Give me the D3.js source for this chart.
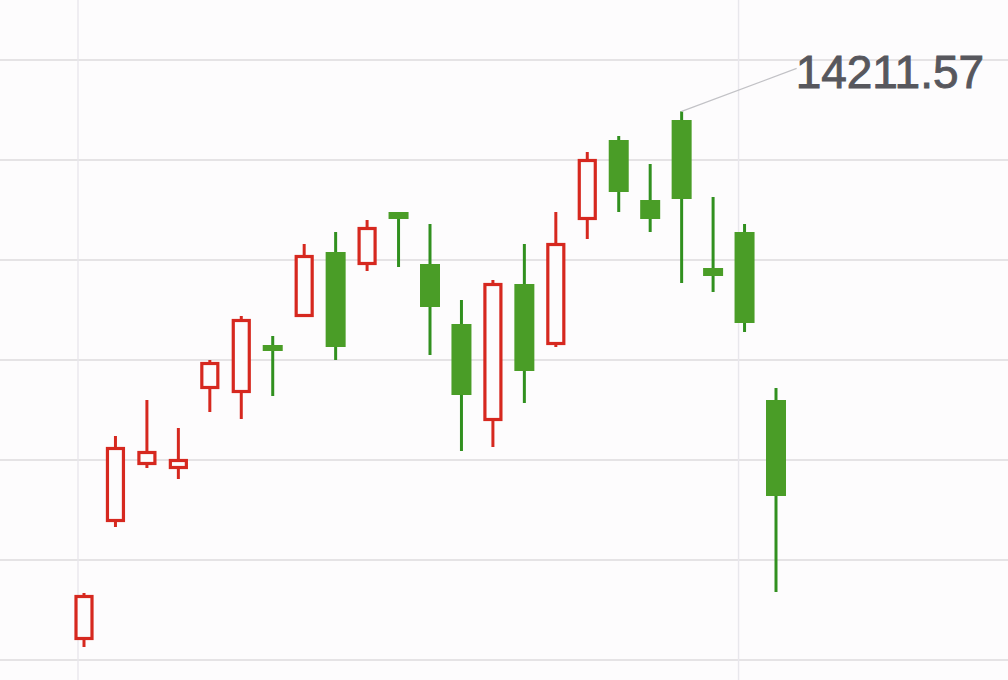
<!DOCTYPE html>
<html>
<head>
<meta charset="utf-8">
<script src="https://cdn.jsdelivr.net/npm/d3@7/dist/d3.min.js"></script>
<style>
  html, body { margin: 0; padding: 0; background: #fdfcfd; }
  svg { display: block; }
</style>
</head>
<body>
<div id="chart"></div>
<script>
// ---- Data ----
const days   = d3.range(1, 24).map(d => "D" + d);
const opens  = [12890, 13185, 13327.5, 13317.5, 13517.5, 13507.5, 13627.5, 13697.5, 13860, 13827.5, 13960, 13830, 13680, 13437.5, 13780, 13627.5, 13940, 14140, 13990, 14190, 13820, 13910, 13490];
const highs  = [13007.5, 13400, 13490, 13420, 13590, 13700, 13650, 13880, 13910, 13940, 13960, 13930, 13740, 13790, 13880, 13960, 14110, 14150, 14080, 14211.57, 13997.5, 13930, 13520];
const lows   = [12872.5, 13172.5, 13320, 13292.5, 13460, 13442.5, 13500, 13697.5, 13590, 13812.5, 13822.5, 13602.5, 13362.5, 13372.5, 13482.5, 13622.5, 13892.5, 13960, 13910, 13782.5, 13760, 13660, 13010];
const closes = [13002.5, 13372.5, 13362.5, 13342.5, 13585, 13692.5, 13612.5, 13852.5, 13622.5, 13922.5, 13942.5, 13722.5, 13502.5, 13782.5, 13562.5, 13882.5, 14092.5, 14010, 13942.5, 13992.5, 13800, 13682.5, 13250];
const gridValues = [14340, 14090, 13840, 13590, 13340, 13090, 12840];
const vGridDays = ["D1", "D22"];
const peakLabel = "14211.57";

const W = 1008, H = 680;
const candles = days.map((d, i) => ({ day: d, o: opens[i], h: highs[i], l: lows[i], c: closes[i] }));

const svg = d3.select("#chart").append("svg").attr("width", W).attr("height", H);
svg.append("rect").attr("width", W).attr("height", H).attr("fill", "#fdfcfd");

const x = d3.scalePoint().domain(days).range([84, 776]);
const y = d3.scaleLinear().domain([12840, 14340]).range([660, 60]);

// horizontal grid
svg.append("g").selectAll("line").data(gridValues).join("line")
  .attr("x1", 0).attr("x2", W)
  .attr("y1", d => y(d)).attr("y2", d => y(d))
  .attr("stroke", "#dcdbdd").attr("stroke-width", 1.6);

// vertical grid
svg.append("g").selectAll("line").data(vGridDays).join("line")
  .attr("x1", d => x(d) - 6).attr("x2", d => x(d) - 6)
  .attr("y1", 0).attr("y2", H)
  .attr("stroke", "#e8e7ec").attr("stroke-width", 1.4);

const RED = "#d6281f", GREEN = "#4a9d27", GREEN_W = "#31901f";
const bw = 19;

const g = svg.append("g");
const cg = g.selectAll("g.c").data(candles).join("g").attr("class", "c");

cg.append("line")
  .attr("x1", d => x(d.day)).attr("x2", d => x(d.day))
  .attr("y1", d => y(d.h)).attr("y2", d => y(d.l))
  .attr("stroke", d => d.c >= d.o ? RED : GREEN_W)
  .attr("stroke-width", 3);

cg.each(function(d) {
  const sel = d3.select(this);
  const up = d.c >= d.o;
  const top = y(Math.max(d.o, d.c)), bot = y(Math.min(d.o, d.c));
  if (up) {
    sel.append("rect")
      .attr("x", x(d.day) - bw / 2 + 1.5).attr("width", bw - 3)
      .attr("y", top + 1.5).attr("height", Math.max(bot - top - 3, 1))
      .attr("fill", "#fdfcfd").attr("stroke", RED).attr("stroke-width", 3.2);
  } else {
    sel.append("rect")
      .attr("x", x(d.day) - (bw + 1) / 2).attr("width", bw + 1)
      .attr("y", top).attr("height", Math.max(bot - top, 3))
      .attr("fill", GREEN);
  }
});

// peak annotation
const peakIdx = d3.maxIndex(candles, d => d.h);
const pk = candles[peakIdx];
const px = x(pk.day), py = y(pk.h);
svg.append("line")
  .attr("x1", px).attr("y1", py)
  .attr("x2", px + 115).attr("y2", py - 43)
  .attr("stroke", "#c2c2c6").attr("stroke-width", 1.3);
svg.append("text")
  .attr("x", px + 114).attr("y", py - 23)
  .attr("font-family", "Liberation Sans, Arial, sans-serif")
  .attr("font-size", 46)
  .attr("fill", "#57575d")
  .attr("stroke", "#57575d").attr("stroke-width", 0.9)
  .text(peakLabel);
</script>
</body>
</html>
